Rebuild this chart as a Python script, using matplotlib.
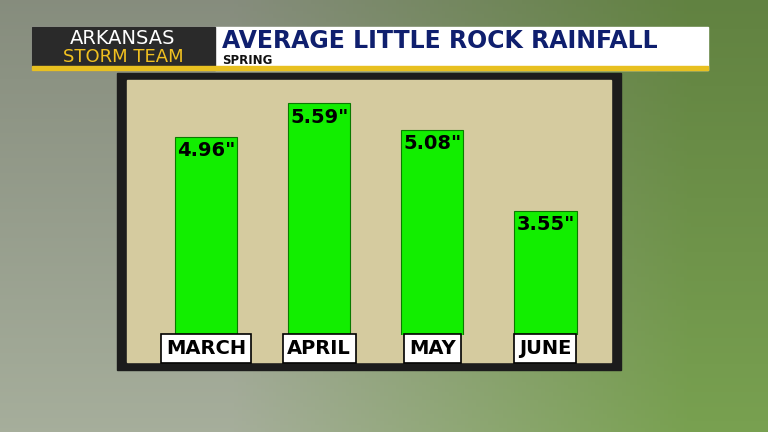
import numpy as np
import matplotlib
matplotlib.use("Agg")
import matplotlib.pyplot as plt
from matplotlib.patches import Rectangle

months = ["MARCH", "APRIL", "MAY", "JUNE"]
rain = [4.96, 5.59, 5.08, 3.55]
labels = ['4.96"', '5.59"', '5.08"', '3.55"']

fig = plt.figure(figsize=(7.68, 4.32), dpi=100)

bg = fig.add_axes([0, 0, 1, 1])
bg.set_axis_off()
xx, yy = np.meshgrid(np.linspace(0, 1, 200), np.linspace(0, 1, 120))
left = np.array([0.62, 0.65, 0.58])
right = np.array([0.45, 0.60, 0.30])
t = np.clip((xx - 0.3) / 0.6, 0, 1)[..., None]
img = left * (1 - t) + right * t
img = img * (0.85 + 0.2 * yy[..., None])
img = np.clip(img, 0, 1)
bg.imshow(img, extent=[0, 1, 0, 1], aspect="auto", origin="upper")
bg.set_xlim(0, 1); bg.set_ylim(0, 1)

def px(x0, y0, x1, y1):
    return (x0 / 768, 1 - y1 / 432, (x1 - x0) / 768, (y1 - y0) / 432)

def rect(x0, y0, x1, y1, **kw):
    l, b, w, h = px(x0, y0, x1, y1)
    bg.add_patch(Rectangle((l, b), w, h, transform=bg.transAxes, **kw))

rect(32, 27, 708, 70, color="white", zorder=2)
rect(32, 27, 215, 70, color="#2a2a2a", zorder=3)
rect(32, 66, 708, 70, color="#e8c020", zorder=3)
bg.text(123/768, 1-39/432, "ARKANSAS", color="white", fontsize=14, ha="center", va="center", zorder=4)
bg.text(123/768, 1-57/432, "STORM TEAM", color="#f0c020", fontsize=13, ha="center", va="center", zorder=4)
bg.text(222/768, 1-41/432, "AVERAGE LITTLE ROCK RAINFALL", color="#0f1f6e", fontsize=17, fontweight="bold", ha="left", va="center", zorder=4)
bg.text(222/768, 1-60/432, "SPRING", color="#111111", fontsize=8.5, fontweight="bold", ha="left", va="center", zorder=4)

rect(117, 73, 621, 370, color="#1c1c1c", zorder=2)
rect(127, 80, 611, 362, color="#d5cb9f", zorder=3)

ax = fig.add_axes(px(127, 80, 611, 335))
ax.patch.set_alpha(0)
ax.set_axis_off()
x = np.arange(len(months))
ax.bar(x, rain, width=0.55, color="#12ee00", edgecolor="#0a7a00", linewidth=0.8)
ax.set_ylim(1.21, 6.03)
ax.set_xlim(-0.70, 3.58)
for xi, v, lab in zip(x, rain, labels):
    ax.text(xi, v - 0.08, lab, ha="center", va="top", fontsize=14, fontweight="bold", color="black")
for xi, m in zip(x, months):
    ax.text(xi, 1.21 - 0.25, m, ha="center", va="center", fontsize=14, fontweight="bold", color="black",
            clip_on=False,
            bbox=dict(boxstyle="square,pad=0.25", fc="white", ec="black", lw=1.2))

fig.savefig("out.png", dpi=100)
